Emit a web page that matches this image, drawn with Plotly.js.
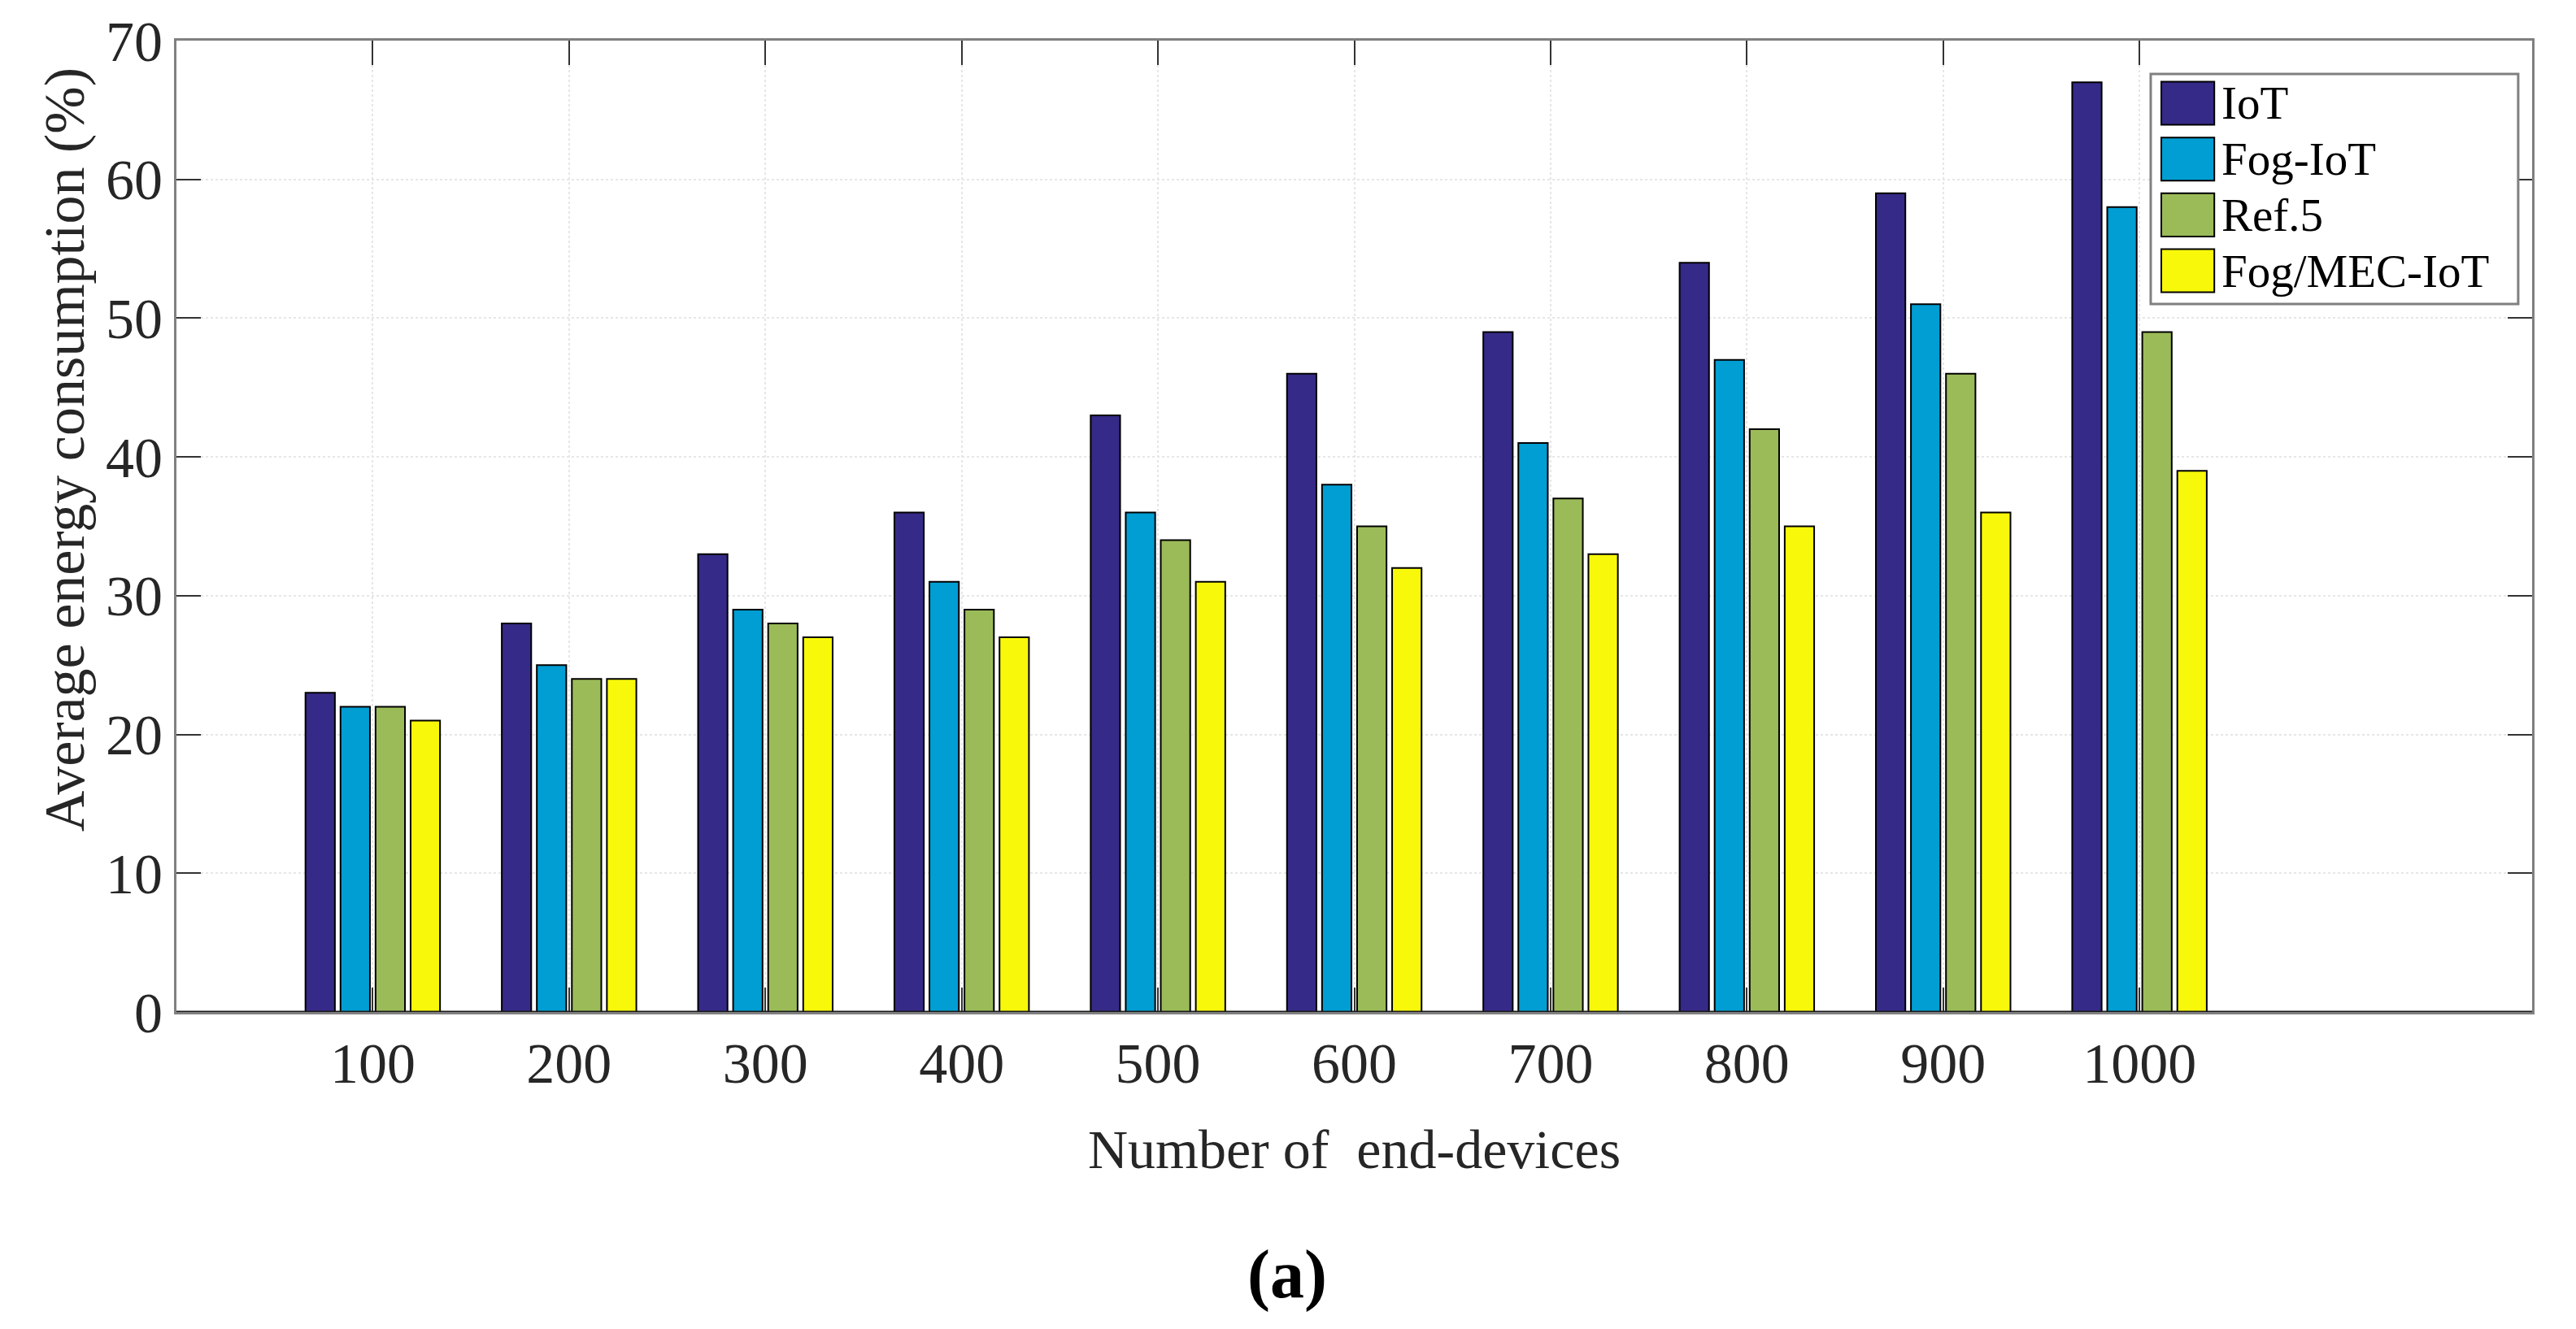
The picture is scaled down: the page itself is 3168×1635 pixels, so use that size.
<!DOCTYPE html>
<html>
<head>
<meta charset="utf-8">
<script src="https://cdn.plot.ly/plotly-3.0.1.min.js"></script>
<style>
  html, body { margin: 0; padding: 0; background: #fff; }
  #energy-chart { width: 3168px; height: 1635px; }
</style>
</head>
<body>
<div id="energy-chart"></div>
<script>
const endDevices = [100, 200, 300, 400, 500, 600, 700, 800, 900, 1000];
const tickLabels = ['100', '200', '300', '400', '500', '600', '700', '800', '900', '1000'];
const seriesNames = ['IoT', 'Fog-IoT', 'Ref.5', 'Fog/MEC-IoT'];
const iotValues = [23, 28, 33, 36, 43, 46, 49, 54, 59, 67];
const fogIotValues = [22, 25, 29, 31, 36, 38, 41, 47, 51, 58];
const ref5Values = [22, 24, 28, 29, 34, 35, 37, 42, 46, 49];
const fogMecIotValues = [21, 24, 27, 27, 31, 32, 33, 35, 36, 39];
const seriesColors = ['#352a87', '#009ed3', '#9bbb59', '#f8f80a'];

const FONT = 'Liberation Serif, Times New Roman, serif';

const drawEnergyChart = () => {
    const allValues = [iotValues, fogIotValues, ref5Values, fogMecIotValues];
    let data = allValues.map((vals, i) => ({
        x: endDevices,
        y: vals,
        name: seriesNames[i],
        type: 'bar',
        marker: {
            color: seriesColors[i],
            line: { color: '#000000', width: 2 }
        },
        showlegend: false
    }));

    // legend drawn by hand so the swatches can be as big as the matlab ones
    const shapes = [];
    const annotations = [];
    const legX0 = 0.8381, legX1 = 0.9941, legY0 = 0.7289, legY1 = 0.9657;
    shapes.push({
        type: 'rect', xref: 'paper', yref: 'paper',
        x0: legX0, x1: legX1, y0: legY0, y1: legY1,
        line: { color: '#808080', width: 3 }, fillcolor: '#ffffff', layer: 'above'
    });
    seriesNames.forEach((name, i) => {
        const yc = 0.9356 - i * 0.0575;
        shapes.push({
            type: 'rect', xref: 'paper', yref: 'paper',
            x0: 0.8426, x1: 0.8651, y0: yc - 0.0222, y1: yc + 0.0222,
            fillcolor: seriesColors[i], line: { color: '#000000', width: 2 }, layer: 'above'
        });
        annotations.push({
            xref: 'paper', yref: 'paper', x: 0.8675, y: yc,
            xanchor: 'left', yanchor: 'middle', showarrow: false,
            text: name, font: { family: FONT, size: 57, color: '#000000' }
        });
    });

    // black bar baseline at y = 0
    shapes.push({
        type: 'line', xref: 'paper', yref: 'y', x0: 0, x1: 1, y0: 0, y1: 0,
        line: { color: '#1a1a1a', width: 3 }, layer: 'above'
    });

    // y title sits a bit above the middle of the axis in the original
    annotations.push({
        xref: 'paper', yref: 'paper', x: -0.0476, y: 0.579,
        xanchor: 'center', yanchor: 'middle', showarrow: false, textangle: -90,
        text: 'Average energy consumption (%)', font: { family: FONT, size: 70, color: '#262626' }
    });

    annotations.push({
        xref: 'paper', yref: 'paper', x: 0.4715, y: -0.27,
        xanchor: 'center', yanchor: 'middle', showarrow: false,
        text: '<b>(a)</b>', font: { family: FONT, size: 84, color: '#000000' }
    });

    let layout = {
        width: 3168,
        height: 1635,
        margin: { l: 217, r: 54, t: 50, b: 390 },
        paper_bgcolor: '#ffffff',
        plot_bgcolor: '#ffffff',
        barmode: 'group',
        bargap: 0.286,
        bargroupgap: 0.16,
        font: { family: FONT, color: '#262626' },
        xaxis: {
            range: [0, 1200],
            tickmode: 'array',
            tickvals: endDevices,
            ticktext: tickLabels,
            ticks: 'inside',
            ticklen: 30,
            tickwidth: 2,
            tickcolor: '#333333',
            showline: true,
            linecolor: '#808080',
            linewidth: 3,
            mirror: 'ticks',
            showgrid: true,
            gridcolor: '#e6e6e6',
            gridwidth: 2,
            griddash: 'dot',
            zeroline: false,
            tickfont: { family: FONT, size: 70, color: '#262626' },
            title: { text: 'Number of\u00a0 end-devices', font: { family: FONT, size: 68, color: '#262626' }, standoff: 44 },
            automargin: false
        },
        yaxis: {
            range: [0, 70],
            tickmode: 'linear',
            tick0: 0,
            dtick: 10,
            ticks: 'inside',
            ticklen: 30,
            tickwidth: 2,
            tickcolor: '#333333',
            showline: true,
            linecolor: '#808080',
            linewidth: 3,
            mirror: 'ticks',
            showgrid: true,
            gridcolor: '#e6e6e6',
            gridwidth: 2,
            griddash: 'dot',
            zeroline: false,
            tickfont: { family: FONT, size: 70, color: '#262626' },
            automargin: false
        },
        shapes: shapes,
        annotations: annotations
    };
    Plotly.newPlot('energy-chart', data, layout, { displayModeBar: false, staticPlot: true });
};

drawEnergyChart();
</script>
</body>
</html>
